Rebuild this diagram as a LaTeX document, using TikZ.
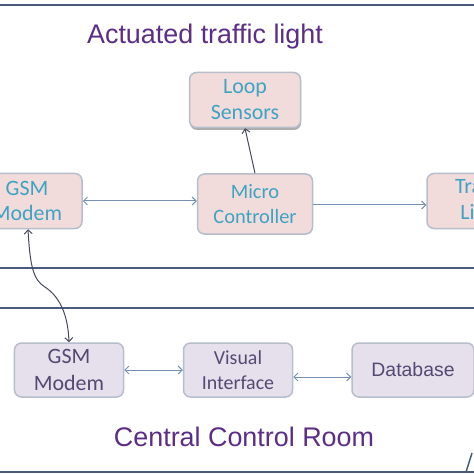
\documentclass[tikz,border=0pt]{standalone}
\usepackage{fontspec}
\setmainfont{Liberation Sans}
\newfontfamily\boxfont{Carlito}
\usetikzlibrary{arrows.meta,positioning,shadows}
\definecolor{rulecol}{HTML}{4A5A7C}
\definecolor{boxline}{HTML}{B6BDCB}
\definecolor{pinkfill}{HTML}{F2DCDB}
\definecolor{lavfill}{HTML}{E5E0EC}
\definecolor{tealtext}{HTML}{3EA3C2}
\definecolor{purpletext}{HTML}{5B2D86}
\definecolor{roomtext}{HTML}{554872}
\definecolor{linkcol}{HTML}{7590B0}
\definecolor{darklink}{HTML}{454A5C}

\begin{document}
\begin{tikzpicture}[x=1bp,y=-1bp]
\tikzstyle{unit}=[draw=boxline, line width=1.5bp, rounded corners=7bp, align=center, inner sep=0pt]
\tikzstyle{sitebox}=[unit, fill=pinkfill, text=tealtext, font=\boxfont\fontsize{22}{26}\selectfont, minimum width=112bp, minimum height=56bp]
\tikzstyle{roombox}=[unit, fill=lavfill, text=roomtext, font=\boxfont\fontsize{22}{27}\selectfont, minimum width=109bp, minimum height=54bp]
\tikzset{link/.style={draw=linkcol, line width=1bp, {Straight Barb[length=4bp,width=8bp]}-{Straight Barb[length=4bp,width=8bp]}},
  darkarrow/.style={draw=darklink, line width=1bp, -{Straight Barb[length=4bp,width=8bp]}},
  rule/.style={draw=rulecol, line width=2.2bp}}
\clip (0,0) rectangle (474,474);
\useasboundingbox (0,0) rectangle (474,474);
% section rules
\draw[rule] (0,5) -- (474,5);
\draw[rule] (0,268) -- (474,268);
\draw[rule] (0,308) -- (474,308);
\draw[rule] (0,472) -- (474,472);
\draw[draw=rulecol, line width=1.5bp] (466,472) -- (472,453);
% actuated traffic light
\node[text=purpletext, font=\fontsize{27}{32}\selectfont] (TITLE) at (205,37) {Actuated traffic light};
\node[sitebox, minimum width=115bp, minimum height=60bp, font=\boxfont\fontsize{20.5}{25}\selectfont] (MICRO) at (255,204) {Micro\\Controller};
\node[sitebox, minimum width=111bp, minimum height=55bp, drop shadow={shadow xshift=0.5bp, shadow yshift=-2.5bp, fill=black!65}] (LOOP) at (245,100) {Loop\\Sensors};
\node[sitebox, minimum width=110bp, minimum height=55bp] (GSMA) at (27,201) {GSM\\Modem};
\node[sitebox, minimum width=110bp, minimum height=55bp] (TRAFFIC) at (482,201) {Traffic\\Light};
% central control room
\node[roombox] (GSMB) at (69,370) {GSM\\Modem};
\node[roombox, font=\boxfont\fontsize{20}{25}\selectfont] (VISUAL) at (238,370) {Visual\\Interface};
\node[roombox, minimum width=122bp, font=\fontsize{19.5}{23}\selectfont] (DB) at (413,370) {Database};
\node[text=purpletext, font=\fontsize{27}{32}\selectfont] (ROOM) at (244,437) {Central Control Room};
% connectors
\path[link] (GSMA.east) -- (GSMA.east -| MICRO.west);
\path[darkarrow, draw=linkcol] ([yshift=-1bp]MICRO.east) -- ([yshift=-1bp]MICRO.east -| TRAFFIC.west);
\path[darkarrow] (MICRO.north) -- (LOOP.south);
\path[link] (GSMB.east) -- (VISUAL.west);
\path[link] ([yshift=-7bp]VISUAL.east) -- ([yshift=-7bp]VISUAL.east -| DB.west);
\path[draw=darklink, line width=1bp, {Straight Barb[length=4bp,width=8bp]}-{Straight Barb[length=4bp,width=8bp]}]
  ([xshift=1bp]GSMA.south) .. controls (30,265) and (33,280) .. (45,287)
  .. controls (60,297) and (68,315) .. (GSMB.north);
\end{tikzpicture}
\end{document}
